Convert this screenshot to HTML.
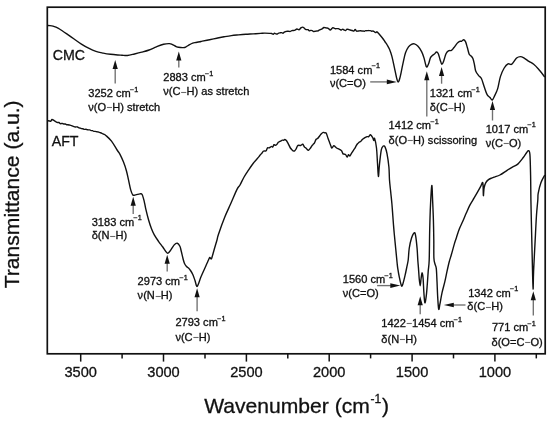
<!DOCTYPE html>
<html><head><meta charset="utf-8"><style>
html,body{margin:0;padding:0;background:#fff;}
svg{display:block;}
text{font-family:"Liberation Sans",Arial,sans-serif;font-size:10.4px;fill:#111;stroke:#111;stroke-width:0.3px;}
.sup{font-size:6.8px;}
.smin{fill:#555;stroke:#555;}
.dash{fill:#6a6a6a;stroke:#6a6a6a;stroke-width:0.6px;font-size:7.5px;}
.tick{font-size:14.6px;text-anchor:middle;fill:#111;}
.ser{font-size:14.2px;fill:#111;}
.ax{font-size:21.1px;fill:#111;}
.axsup{font-size:12px;}
.cv{fill:none;stroke:#111;stroke-width:1.4;stroke-linejoin:round;}
.al{stroke:#707070;stroke-width:1.35;}
.ah{fill:#111;}
</style></head><body>
<svg width="550" height="421" viewBox="0 0 550 421">
<rect x="47.3" y="7.2" width="497.9" height="346.6" fill="none" stroke="#111" stroke-width="1.7"/>
<line x1="80.7" y1="353.8" x2="80.7" y2="361.6" stroke="#111" stroke-width="1.5"/>
<line x1="122.1" y1="353.8" x2="122.1" y2="358.40000000000003" stroke="#111" stroke-width="1.5"/>
<line x1="163.5" y1="353.8" x2="163.5" y2="361.6" stroke="#111" stroke-width="1.5"/>
<line x1="205.0" y1="353.8" x2="205.0" y2="358.40000000000003" stroke="#111" stroke-width="1.5"/>
<line x1="246.4" y1="353.8" x2="246.4" y2="361.6" stroke="#111" stroke-width="1.5"/>
<line x1="287.8" y1="353.8" x2="287.8" y2="358.40000000000003" stroke="#111" stroke-width="1.5"/>
<line x1="329.2" y1="353.8" x2="329.2" y2="361.6" stroke="#111" stroke-width="1.5"/>
<line x1="370.6" y1="353.8" x2="370.6" y2="358.40000000000003" stroke="#111" stroke-width="1.5"/>
<line x1="412.1" y1="353.8" x2="412.1" y2="361.6" stroke="#111" stroke-width="1.5"/>
<line x1="453.5" y1="353.8" x2="453.5" y2="358.40000000000003" stroke="#111" stroke-width="1.5"/>
<line x1="494.9" y1="353.8" x2="494.9" y2="361.6" stroke="#111" stroke-width="1.5"/>
<line x1="536.3" y1="353.8" x2="536.3" y2="358.40000000000003" stroke="#111" stroke-width="1.5"/>
<text x="80.7" y="377.3" class="tick">3500</text>
<text x="163.5" y="377.3" class="tick">3000</text>
<text x="246.4" y="377.3" class="tick">2500</text>
<text x="329.2" y="377.3" class="tick">2000</text>
<text x="412.1" y="377.3" class="tick">1500</text>
<text x="494.9" y="377.3" class="tick">1000</text>
<path d="M47.50,25.50 C47.92,25.52 49.08,25.50 50.00,25.60 C50.92,25.70 52.00,25.83 53.00,26.10 C54.00,26.37 54.92,26.72 56.00,27.20 C57.08,27.68 57.70,27.88 59.50,29.00 C61.30,30.12 64.37,32.23 66.80,33.90 C69.23,35.57 71.67,37.30 74.10,39.00 C76.53,40.70 78.98,42.57 81.40,44.10 C83.82,45.63 86.18,46.98 88.60,48.20 C91.02,49.42 93.47,50.58 95.90,51.40 C98.33,52.22 100.77,52.62 103.20,53.10 C105.63,53.58 108.08,53.98 110.50,54.30 C112.92,54.62 115.78,54.85 117.70,55.00 C119.62,55.15 120.40,55.12 122.00,55.20 C123.60,55.28 125.22,55.70 127.30,55.50 C129.38,55.30 132.08,54.55 134.50,54.00 C136.92,53.45 139.37,52.87 141.80,52.20 C144.23,51.53 146.67,50.90 149.10,50.00 C151.53,49.10 153.98,47.77 156.40,46.80 C158.82,45.83 161.42,44.73 163.60,44.20 C165.78,43.67 168.03,43.53 169.50,43.60 C170.97,43.67 171.20,44.07 172.40,44.60 C173.60,45.13 175.25,46.32 176.70,46.80 C178.15,47.28 179.77,47.38 181.10,47.50 C182.43,47.62 183.48,47.87 184.70,47.50 C185.92,47.13 187.07,46.03 188.40,45.30 C189.73,44.57 191.43,43.57 192.70,43.10 C193.97,42.63 194.78,42.73 196.00,42.50 C197.22,42.27 198.95,41.93 200.00,41.70 C201.05,41.47 200.72,41.43 202.30,41.10 C203.88,40.77 207.08,40.18 209.50,39.70 C211.92,39.22 214.37,38.68 216.80,38.20 C219.23,37.72 221.67,37.23 224.10,36.80 C226.53,36.37 228.98,35.92 231.40,35.60 C233.82,35.28 236.18,35.12 238.60,34.90 C241.02,34.68 243.47,34.47 245.90,34.30 C248.33,34.13 250.77,34.05 253.20,33.90 C255.63,33.75 258.57,33.53 260.50,33.40 C262.43,33.27 263.12,33.10 264.80,33.10 C266.48,33.10 269.42,33.33 270.60,33.40 C271.78,33.47 271.47,33.41 271.90,33.55 C272.33,33.68 272.77,34.28 273.20,34.23 C273.63,34.17 274.07,33.31 274.50,33.23 C274.93,33.16 275.34,33.67 275.80,33.80 C276.26,33.93 276.77,34.12 277.25,34.00 C277.73,33.87 278.22,33.27 278.70,33.07 C279.18,32.87 279.67,32.85 280.15,32.77 C280.63,32.69 281.11,32.53 281.60,32.60 C282.09,32.67 282.58,33.30 283.08,33.20 C283.57,33.10 284.06,32.26 284.55,31.98 C285.04,31.70 285.53,31.66 286.02,31.53 C286.52,31.40 287.01,31.22 287.50,31.20 C287.99,31.18 288.47,31.35 288.95,31.39 C289.43,31.43 289.92,31.54 290.40,31.41 C290.88,31.29 291.37,30.81 291.85,30.66 C292.33,30.51 292.76,30.60 293.30,30.50 C293.84,30.40 294.50,30.29 295.10,30.04 C295.70,29.79 296.23,29.06 296.90,29.00 C297.57,28.94 298.43,29.88 299.10,29.70 C299.77,29.52 300.30,28.35 300.90,27.91 C301.50,27.48 302.16,27.07 302.70,27.10 C303.24,27.13 303.67,27.68 304.15,28.07 C304.63,28.45 305.15,29.13 305.60,29.40 C306.05,29.67 306.42,29.63 306.83,29.68 C307.24,29.74 307.66,29.53 308.07,29.73 C308.48,29.94 308.86,30.79 309.30,30.90 C309.74,31.01 310.26,30.44 310.73,30.38 C311.21,30.32 311.69,30.35 312.17,30.55 C312.64,30.76 313.12,31.48 313.60,31.60 C314.08,31.72 314.58,31.34 315.07,31.25 C315.56,31.16 316.04,31.11 316.53,31.05 C317.02,30.99 317.51,31.08 318.00,30.90 C318.49,30.72 318.98,30.22 319.47,29.97 C319.96,29.72 320.44,29.63 320.93,29.40 C321.42,29.17 321.91,28.91 322.40,28.60 C322.89,28.29 323.37,27.67 323.85,27.53 C324.33,27.40 324.82,27.72 325.30,27.80 C325.78,27.88 326.27,27.93 326.75,28.01 C327.23,28.09 327.59,27.97 328.20,28.30 C328.81,28.63 329.68,30.08 330.40,30.00 C331.12,29.92 331.91,28.10 332.50,27.80 C333.09,27.50 333.48,28.03 333.97,28.19 C334.46,28.34 334.94,28.64 335.43,28.71 C335.92,28.78 336.41,28.61 336.90,28.60 C337.39,28.59 337.88,28.52 338.37,28.64 C338.86,28.77 339.34,29.11 339.83,29.33 C340.32,29.56 340.82,30.03 341.30,30.00 C341.78,29.97 342.26,29.15 342.73,29.16 C343.21,29.17 343.69,29.86 344.17,30.08 C344.64,30.30 345.12,30.64 345.60,30.50 C346.08,30.36 346.58,29.41 347.07,29.23 C347.56,29.06 348.04,29.33 348.53,29.46 C349.02,29.58 349.37,29.83 350.00,30.00 C350.63,30.17 351.68,30.31 352.30,30.50 C352.92,30.69 353.26,31.29 353.74,31.13 C354.22,30.97 354.70,29.56 355.18,29.56 C355.66,29.56 356.14,30.90 356.62,31.14 C357.10,31.38 357.58,31.02 358.06,30.98 C358.54,30.94 359.06,30.95 359.50,30.90 C359.94,30.85 360.31,30.68 360.72,30.71 C361.12,30.74 361.53,31.00 361.93,31.06 C362.34,31.12 362.74,31.03 363.15,31.06 C363.56,31.10 363.96,31.36 364.37,31.29 C364.77,31.22 365.18,30.72 365.58,30.62 C365.99,30.52 366.39,30.71 366.80,30.70 C367.21,30.69 367.61,30.54 368.02,30.54 C368.42,30.53 368.83,30.65 369.23,30.66 C369.64,30.68 370.04,30.52 370.45,30.61 C370.86,30.70 371.26,31.15 371.67,31.21 C372.07,31.27 372.48,30.93 372.88,30.97 C373.29,31.02 373.65,31.22 374.10,31.50 C374.55,31.78 375.08,32.61 375.57,32.67 C376.06,32.72 376.54,31.71 377.03,31.83 C377.52,31.95 377.54,32.29 378.50,33.40 C379.46,34.51 381.75,37.15 382.80,38.50 C383.85,39.85 384.07,40.42 384.80,41.50 C385.53,42.58 386.42,43.70 387.20,45.00 C387.98,46.30 388.72,47.40 389.50,49.30 C390.28,51.20 391.10,53.43 391.90,56.40 C392.70,59.37 393.52,63.53 394.30,67.10 C395.08,70.67 395.97,75.33 396.60,77.80 C397.23,80.27 397.60,81.70 398.10,81.90 C398.60,82.10 399.05,80.78 399.60,79.00 C400.15,77.22 400.80,73.98 401.40,71.20 C402.00,68.42 402.52,65.37 403.20,62.30 C403.88,59.23 404.62,55.37 405.50,52.80 C406.38,50.23 407.50,48.32 408.50,46.90 C409.50,45.48 410.52,44.80 411.50,44.30 C412.48,43.80 413.32,43.57 414.40,43.90 C415.48,44.23 416.80,45.02 418.00,46.30 C419.20,47.58 420.62,49.72 421.60,51.60 C422.58,53.48 423.22,55.42 423.90,57.60 C424.58,59.78 425.20,63.12 425.70,64.70 C426.20,66.28 426.40,67.30 426.90,67.10 C427.40,66.90 428.10,65.08 428.70,63.50 C429.30,61.92 429.88,58.93 430.50,57.60 C431.12,56.27 431.73,56.10 432.40,55.50 C433.07,54.90 433.82,54.58 434.50,54.00 C435.18,53.42 435.87,52.03 436.50,52.00 C437.13,51.97 437.70,52.52 438.30,53.80 C438.90,55.08 439.50,57.93 440.10,59.70 C440.70,61.47 441.30,64.20 441.90,64.40 C442.50,64.60 443.02,62.67 443.70,60.90 C444.38,59.13 445.22,55.48 446.00,53.80 C446.78,52.12 447.50,51.37 448.40,50.80 C449.30,50.23 450.50,50.90 451.40,50.40 C452.30,49.90 452.82,49.02 453.80,47.80 C454.78,46.58 456.32,44.18 457.30,43.10 C458.28,42.02 459.00,41.60 459.70,41.30 C460.40,41.00 460.82,41.57 461.50,41.30 C462.18,41.03 463.12,39.60 463.80,39.70 C464.48,39.80 465.00,40.55 465.60,41.90 C466.20,43.25 466.80,45.73 467.40,47.80 C468.00,49.87 468.68,53.02 469.20,54.30 C469.72,55.58 469.88,54.80 470.50,55.50 C471.12,56.20 472.23,56.92 472.90,58.50 C473.57,60.08 474.03,62.93 474.50,65.00 C474.97,67.07 475.02,69.13 475.70,70.90 C476.38,72.67 477.65,74.33 478.60,75.60 C479.55,76.87 480.45,76.60 481.40,78.50 C482.35,80.40 483.35,84.32 484.30,87.00 C485.25,89.68 486.15,92.85 487.10,94.60 C488.05,96.35 489.15,96.60 490.00,97.50 C490.85,98.40 491.42,100.32 492.20,100.00 C492.98,99.68 493.80,97.45 494.70,95.60 C495.60,93.75 496.65,92.07 497.60,88.90 C498.55,85.73 499.30,80.08 500.40,76.60 C501.50,73.12 502.93,70.13 504.20,68.00 C505.47,65.87 506.73,64.43 508.00,63.80 C509.27,63.17 510.37,65.15 511.80,64.20 C513.23,63.25 515.17,59.37 516.60,58.10 C518.03,56.83 519.13,56.60 520.40,56.60 C521.67,56.60 522.78,57.30 524.20,58.10 C525.62,58.90 527.32,60.38 528.90,61.40 C530.48,62.42 532.12,62.93 533.70,64.20 C535.28,65.47 536.55,66.87 538.40,69.00 C540.25,71.13 543.73,75.67 544.80,77.00" class="cv"/>
<path d="M47.50,120.60 C48.03,120.70 49.95,121.38 50.70,121.20 C51.45,121.02 51.37,119.57 52.00,119.50 C52.63,119.43 53.77,120.37 54.50,120.80 C55.23,121.23 55.87,121.81 56.40,122.10 C56.93,122.39 57.24,122.48 57.67,122.55 C58.09,122.61 58.51,122.31 58.93,122.49 C59.36,122.67 59.78,123.45 60.20,123.63 C60.62,123.81 61.04,123.58 61.47,123.56 C61.89,123.54 62.31,123.46 62.73,123.54 C63.16,123.61 63.56,123.92 64.00,124.00 C64.44,124.08 64.90,123.91 65.36,124.03 C65.81,124.16 66.26,124.61 66.71,124.73 C67.17,124.86 67.62,124.72 68.07,124.78 C68.52,124.83 68.98,124.96 69.43,125.05 C69.88,125.14 70.33,125.19 70.79,125.32 C71.24,125.45 71.69,125.68 72.14,125.84 C72.60,126.01 73.05,126.12 73.50,126.30 C73.95,126.48 74.40,126.83 74.86,126.93 C75.31,127.04 75.76,126.89 76.21,126.91 C76.67,126.92 77.12,126.84 77.57,127.01 C78.02,127.17 78.48,127.71 78.93,127.90 C79.38,128.08 79.83,127.98 80.29,128.10 C80.74,128.23 81.19,128.54 81.64,128.65 C82.10,128.77 82.55,128.68 83.00,128.80 C83.45,128.92 83.90,129.29 84.36,129.37 C84.81,129.46 85.26,129.27 85.71,129.30 C86.17,129.34 86.62,129.48 87.07,129.58 C87.52,129.67 87.98,129.83 88.43,129.87 C88.88,129.92 89.33,129.75 89.79,129.87 C90.24,129.99 90.69,130.46 91.14,130.60 C91.60,130.73 92.06,130.57 92.50,130.70 C92.94,130.83 93.34,131.25 93.77,131.36 C94.19,131.47 94.61,131.34 95.03,131.38 C95.46,131.42 95.88,131.50 96.30,131.59 C96.72,131.68 97.14,131.82 97.57,131.90 C97.99,131.98 98.41,131.97 98.83,132.09 C99.26,132.20 99.65,132.43 100.10,132.60 C100.55,132.77 101.05,132.88 101.52,133.10 C102.00,133.32 102.47,133.67 102.95,133.90 C103.42,134.13 103.90,134.24 104.38,134.49 C104.85,134.74 104.61,134.30 105.80,135.40 C106.99,136.50 109.62,138.67 111.50,141.10 C113.38,143.53 115.68,147.80 117.10,150.00 C118.52,152.20 118.93,152.28 120.00,154.30 C121.07,156.32 122.43,159.37 123.50,162.10 C124.57,164.83 125.57,167.73 126.40,170.70 C127.23,173.67 127.78,176.70 128.50,179.90 C129.22,183.10 129.98,187.40 130.70,189.90 C131.42,192.40 131.97,194.07 132.80,194.90 C133.63,195.73 134.52,195.07 135.70,194.90 C136.88,194.73 138.83,193.97 139.90,193.90 C140.97,193.83 141.38,193.27 142.10,194.50 C142.82,195.73 143.60,198.95 144.20,201.30 C144.80,203.65 144.97,205.48 145.70,208.60 C146.43,211.72 147.65,216.68 148.60,220.00 C149.55,223.32 150.45,226.02 151.40,228.50 C152.35,230.98 153.12,232.77 154.30,234.90 C155.48,237.03 157.08,239.28 158.50,241.30 C159.92,243.32 161.37,245.05 162.80,247.00 C164.23,248.95 165.92,252.28 167.10,253.00 C168.28,253.72 168.72,252.65 169.90,251.30 C171.08,249.95 172.97,246.25 174.20,244.90 C175.43,243.55 176.35,242.97 177.30,243.20 C178.25,243.43 179.25,245.00 179.90,246.30 C180.55,247.60 180.68,248.97 181.20,251.00 C181.72,253.03 182.45,256.42 183.00,258.50 C183.55,260.58 183.92,262.17 184.50,263.50 C185.08,264.83 185.83,265.75 186.50,266.50 C187.17,267.25 187.83,267.33 188.50,268.00 C189.17,268.67 189.78,269.42 190.50,270.50 C191.22,271.58 192.05,272.83 192.80,274.50 C193.55,276.17 194.27,278.52 195.00,280.50 C195.73,282.48 196.22,286.97 197.20,286.40 C198.18,285.83 199.65,280.08 200.90,277.10 C202.15,274.12 203.43,271.35 204.70,268.50 C205.97,265.65 207.65,261.83 208.50,260.00 C209.35,258.17 209.33,257.67 209.80,257.50 C210.27,257.33 210.88,259.22 211.30,259.00 C211.72,258.78 211.82,257.78 212.30,256.20 C212.78,254.62 213.42,252.20 214.20,249.50 C214.98,246.80 216.28,242.55 217.00,240.00 C217.72,237.45 217.22,238.00 218.50,234.20 C219.78,230.40 222.63,222.35 224.70,217.20 C226.77,212.05 228.85,207.93 230.90,203.30 C232.95,198.67 235.48,192.45 237.00,189.40 C238.52,186.35 238.87,186.98 240.00,185.00 C241.13,183.02 242.37,180.02 243.80,177.50 C245.23,174.98 247.02,172.28 248.60,169.90 C250.18,167.52 251.57,165.42 253.30,163.20 C255.03,160.98 257.81,158.03 259.00,156.60 C260.19,155.17 259.95,155.18 260.43,154.63 C260.90,154.07 261.38,153.83 261.85,153.27 C262.33,152.72 262.80,151.67 263.27,151.28 C263.75,150.88 264.22,150.96 264.70,150.90 C265.18,150.84 265.65,151.42 266.12,150.90 C266.60,150.38 267.07,148.29 267.55,147.80 C268.02,147.30 268.50,148.02 268.97,147.91 C269.45,147.79 269.96,147.36 270.40,147.10 C270.84,146.84 271.20,146.38 271.60,146.36 C272.00,146.34 272.40,147.26 272.80,146.98 C273.20,146.70 273.60,144.98 274.00,144.68 C274.40,144.39 274.74,145.24 275.20,145.20 C275.66,145.16 276.24,144.95 276.77,144.47 C277.29,143.99 277.81,142.81 278.33,142.30 C278.86,141.79 279.44,141.64 279.90,141.40 C280.36,141.16 280.70,141.06 281.10,140.85 C281.50,140.63 281.90,140.21 282.30,140.11 C282.70,140.02 283.10,140.40 283.50,140.30 C283.90,140.19 284.27,139.49 284.70,139.50 C285.13,139.51 285.63,139.86 286.10,140.33 C286.57,140.80 287.02,141.50 287.50,142.30 C287.98,143.10 288.47,144.16 288.95,145.11 C289.43,146.06 289.92,147.25 290.40,148.00 C290.88,148.75 291.33,149.14 291.80,149.63 C292.27,150.11 292.72,150.69 293.20,150.90 C293.68,151.11 294.17,151.19 294.65,150.87 C295.13,150.55 295.62,149.83 296.10,149.00 C296.58,148.17 297.03,146.53 297.50,145.90 C297.97,145.26 298.46,145.24 298.90,145.20 C299.34,145.16 299.74,145.66 300.17,145.63 C300.59,145.60 301.01,145.25 301.43,145.01 C301.86,144.77 302.17,143.85 302.70,144.20 C303.23,144.55 304.07,146.48 304.60,147.10 C305.13,147.72 305.44,147.54 305.87,147.92 C306.29,148.31 306.71,148.99 307.13,149.39 C307.56,149.78 307.84,150.53 308.40,150.30 C308.96,150.07 309.94,148.71 310.50,148.00 C311.06,147.29 311.33,146.63 311.75,146.07 C312.17,145.50 312.54,145.13 313.00,144.60 C313.46,144.07 314.00,143.72 314.50,142.87 C315.00,142.02 315.48,140.23 316.00,139.50 C316.52,138.77 316.97,139.13 317.60,138.50 C318.23,137.87 319.17,136.48 319.80,135.70 C320.43,134.92 320.82,134.35 321.40,133.80 C321.98,133.25 322.74,132.55 323.30,132.40 C323.86,132.25 324.27,132.77 324.75,132.90 C325.23,133.04 325.64,132.27 326.20,133.20 C326.76,134.13 327.55,137.00 328.10,138.50 C328.65,140.00 329.03,140.93 329.50,142.19 C329.97,143.46 330.50,145.13 330.90,146.10 C331.30,147.07 331.42,148.07 331.90,148.00 C332.38,147.93 333.25,145.91 333.80,145.70 C334.35,145.49 334.73,146.35 335.20,146.74 C335.67,147.12 336.16,147.70 336.60,148.00 C337.04,148.30 337.44,148.34 337.87,148.53 C338.29,148.73 338.71,148.95 339.13,149.18 C339.56,149.41 339.98,149.62 340.40,149.90 C340.82,150.18 341.24,150.22 341.67,150.86 C342.09,151.50 342.51,153.19 342.93,153.73 C343.36,154.27 343.75,153.95 344.20,154.10 C344.65,154.25 345.17,154.14 345.65,154.64 C346.13,155.14 346.62,157.08 347.10,157.10 C347.58,157.12 348.03,154.93 348.50,154.75 C348.97,154.56 349.46,156.14 349.90,156.00 C350.34,155.86 350.74,154.60 351.17,153.91 C351.59,153.22 352.01,152.53 352.43,151.86 C352.86,151.19 353.28,150.53 353.70,149.90 C354.12,149.27 354.54,148.75 354.97,148.05 C355.39,147.36 355.81,146.44 356.23,145.73 C356.66,145.02 357.09,144.31 357.50,143.80 C357.91,143.29 358.30,142.98 358.70,142.65 C359.10,142.32 359.50,142.08 359.90,141.82 C360.30,141.55 360.70,141.45 361.10,141.06 C361.50,140.67 361.84,139.96 362.30,139.50 C362.76,139.04 363.34,138.66 363.87,138.31 C364.39,137.96 364.91,137.67 365.43,137.38 C365.96,137.10 366.45,136.73 367.00,136.60 C367.55,136.47 368.17,136.94 368.75,136.62 C369.33,136.30 369.84,134.54 370.50,134.70 C371.16,134.86 372.17,136.65 372.70,137.60 C373.23,138.55 373.38,140.25 373.70,140.40 C374.02,140.55 374.13,137.23 374.60,138.50 C375.07,139.77 376.02,143.88 376.50,148.00 C376.98,152.12 377.18,158.45 377.50,163.20 C377.82,167.95 378.08,176.18 378.40,176.50 C378.72,176.82 378.92,169.53 379.40,165.10 C379.88,160.67 380.67,153.07 381.30,149.90 C381.93,146.73 382.57,146.57 383.20,146.10 C383.83,145.63 384.47,145.83 385.10,147.10 C385.73,148.37 386.37,150.38 387.00,153.70 C387.63,157.02 388.48,162.62 388.90,167.00 C389.32,171.38 389.20,175.85 389.50,180.00 C389.80,184.15 390.30,187.93 390.70,191.90 C391.10,195.87 391.55,199.85 391.90,203.80 C392.25,207.75 392.53,212.07 392.80,215.60 C393.07,219.13 393.25,221.88 393.50,225.00 C393.75,228.12 393.93,230.38 394.30,234.30 C394.67,238.22 395.23,243.75 395.70,248.50 C396.17,253.25 396.75,259.45 397.10,262.80 C397.45,266.15 397.43,266.22 397.80,268.60 C398.17,270.98 398.70,274.25 399.30,277.10 C399.90,279.95 400.82,284.52 401.40,285.70 C401.98,286.88 402.20,285.87 402.80,284.20 C403.40,282.53 404.33,278.55 405.00,275.70 C405.67,272.85 406.27,269.72 406.80,267.10 C407.33,264.48 407.80,263.10 408.20,260.00 C408.60,256.90 408.67,252.08 409.20,248.50 C409.73,244.92 410.57,241.12 411.40,238.50 C412.23,235.88 413.50,233.27 414.20,232.80 C414.90,232.33 415.12,233.08 415.60,235.70 C416.08,238.32 416.73,244.45 417.10,248.50 C417.47,252.55 417.57,256.65 417.80,260.00 C418.03,263.35 418.27,265.52 418.50,268.60 C418.73,271.68 418.92,275.65 419.20,278.50 C419.48,281.35 419.88,285.70 420.20,285.70 C420.52,285.70 420.78,280.65 421.10,278.50 C421.42,276.35 421.77,272.80 422.10,272.80 C422.43,272.80 422.80,275.17 423.10,278.50 C423.40,281.83 423.60,288.75 423.90,292.80 C424.20,296.85 424.50,302.33 424.90,302.80 C425.30,303.27 425.90,298.70 426.30,295.60 C426.70,292.50 426.98,288.23 427.30,284.20 C427.62,280.17 427.88,275.43 428.20,271.40 C428.52,267.37 428.95,266.90 429.20,260.00 C429.45,253.10 429.48,239.17 429.70,230.00 C429.92,220.83 430.15,212.43 430.50,205.00 C430.85,197.57 431.45,186.23 431.80,185.40 C432.15,184.57 432.33,194.23 432.60,200.00 C432.87,205.77 433.20,213.33 433.40,220.00 C433.60,226.67 433.72,233.67 433.80,240.00 C433.88,246.33 433.70,254.00 433.90,258.00 C434.10,262.00 434.60,262.23 435.00,264.00 C435.40,265.77 435.97,265.70 436.30,268.60 C436.63,271.50 436.77,276.67 437.00,281.40 C437.23,286.13 437.42,292.37 437.70,297.00 C437.98,301.63 438.33,308.00 438.70,309.20 C439.07,310.40 439.35,306.93 439.90,304.20 C440.45,301.47 441.17,296.60 442.00,292.80 C442.83,289.00 444.07,284.97 444.90,281.40 C445.73,277.83 446.27,274.72 447.00,271.40 C447.73,268.08 448.57,264.32 449.30,261.50 C450.03,258.68 450.57,257.40 451.40,254.50 C452.23,251.60 453.47,246.90 454.30,244.10 C455.13,241.30 455.58,240.18 456.40,237.70 C457.22,235.22 458.13,231.93 459.20,229.20 C460.27,226.47 461.60,224.03 462.80,221.30 C464.00,218.57 465.15,215.62 466.40,212.80 C467.65,209.98 469.03,206.83 470.30,204.40 C471.57,201.97 472.80,200.23 474.00,198.20 C475.20,196.17 476.38,194.17 477.50,192.20 C478.62,190.23 479.87,188.02 480.70,186.40 C481.53,184.78 482.10,182.57 482.50,182.50 C482.90,182.43 482.95,183.80 483.10,186.00 C483.25,188.20 483.23,195.40 483.40,195.70 C483.57,196.00 483.72,189.95 484.10,187.80 C484.48,185.65 484.97,184.17 485.70,182.80 C486.43,181.43 487.43,180.42 488.50,179.60 C489.57,178.78 491.02,178.37 492.10,177.90 C493.18,177.43 493.70,177.28 495.00,176.80 C496.30,176.32 497.88,176.08 499.90,175.00 C501.92,173.92 505.02,171.62 507.10,170.30 C509.18,168.98 510.62,168.13 512.40,167.10 C514.18,166.07 516.02,165.65 517.80,164.10 C519.58,162.55 521.62,159.73 523.10,157.80 C524.58,155.87 525.82,153.68 526.70,152.50 C527.58,151.32 527.87,150.40 528.40,150.70 C528.93,151.00 529.53,150.15 529.90,154.30 C530.27,158.45 530.43,167.98 530.60,175.60 C530.77,183.22 530.70,189.27 530.90,200.00 C531.10,210.73 531.53,228.33 531.80,240.00 C532.07,251.67 532.28,261.83 532.50,270.00 C532.72,278.17 532.92,288.78 533.10,289.00 C533.28,289.22 533.22,280.20 533.60,271.30 C533.98,262.40 534.92,244.98 535.40,235.60 C535.88,226.22 536.10,220.93 536.50,215.00 C536.90,209.07 537.52,203.60 537.80,200.00 C538.08,196.40 537.68,196.27 538.20,193.40 C538.72,190.53 539.80,185.87 540.90,182.80 C542.00,179.73 544.15,176.30 544.80,175.00" class="cv"/>
<text x="52.8" y="60.1" class="ser">CMC</text>
<text x="51.7" y="145.8" class="ser">AFT</text>
<text x="204.2" y="413.4" class="ax">Wavenumber (cm<tspan class="axsup" dx="0.6" dy="-10">-1</tspan><tspan dx="0.8" dy="10">)</tspan></text>
<text transform="translate(18.5,288.3) rotate(-90)" class="ax">Transmittance (a.u.)</text>
<line x1="115.2" y1="68" x2="115.2" y2="83.6" class="al"/><polygon points="115.2,60 112.60000000000001,69 117.8,69" class="ah"/>
<text transform="translate(88.3,97.2) scale(1.065,1)">3252 cm<tspan class="sup" dx="-0.6" dy="-5.4"><tspan class="smin">−</tspan>1</tspan></text>
<text transform="translate(88.3,111.0) scale(1.065,1)">ν(O<tspan class="dash" dx="1" dy="-1.7">–</tspan><tspan dx="0.5" dy="1.7">H) stretch</tspan></text>
<line x1="178.8" y1="59.4" x2="178.8" y2="67.4" class="al"/><polygon points="178.8,51.4 176.20000000000002,60.4 181.4,60.4" class="ah"/>
<text transform="translate(163.3,80.9) scale(1.065,1)">2883 cm<tspan class="sup" dx="-0.6" dy="-5.4"><tspan class="smin">−</tspan>1</tspan></text>
<text transform="translate(163.3,95.4) scale(1.065,1)">ν(C<tspan class="dash" dx="1" dy="-1.7">–</tspan><tspan dx="0.5" dy="1.7">H) as stretch</tspan></text>
<text transform="translate(329.9,73.60000000000001) scale(1.065,1)">1584 cm<tspan class="sup" dx="-0.6" dy="-5.4"><tspan class="smin">−</tspan>1</tspan></text>
<text transform="translate(329.9,86.7) scale(1.065,1)">ν(C=O)</text>
<line x1="370.2" y1="81.9" x2="387.8" y2="81.9" class="al"/><polygon points="396.8,81.9 386.8,79.55000000000001 386.8,84.25" class="ah"/>
<line x1="426.8" y1="79.3" x2="426.8" y2="116.6" class="al"/><polygon points="426.8,71.3 424.2,80.3 429.40000000000003,80.3" class="ah"/>
<text transform="translate(388.6,129.0) scale(1.065,1)">1412 cm<tspan class="sup" dx="-0.6" dy="-5.4"><tspan class="smin">−</tspan>1</tspan></text>
<text transform="translate(388.6,143.6) scale(1.065,1)">δ(O<tspan class="dash" dx="1" dy="-1.7">–</tspan><tspan dx="0.5" dy="1.7">H) scissoring</tspan></text>
<line x1="441.6" y1="75.1" x2="441.6" y2="83.7" class="al"/><polygon points="441.6,67.1 439.0,76.1 444.20000000000005,76.1" class="ah"/>
<text transform="translate(429.8,97.0) scale(1.065,1)">1321 cm<tspan class="sup" dx="-0.6" dy="-5.4"><tspan class="smin">−</tspan>1</tspan></text>
<text transform="translate(429.8,111.30000000000001) scale(1.065,1)">δ(C<tspan class="dash" dx="1" dy="-1.7">–</tspan><tspan dx="0.5" dy="1.7">H)</tspan></text>
<line x1="492.5" y1="109.1" x2="492.5" y2="120.5" class="al"/><polygon points="492.5,101.1 489.9,110.1 495.1,110.1" class="ah"/>
<text transform="translate(485.7,132.5) scale(1.065,1)">1017 cm<tspan class="sup" dx="-0.6" dy="-5.4"><tspan class="smin">−</tspan>1</tspan></text>
<text transform="translate(485.7,147.0) scale(1.065,1)">ν(C<tspan class="dash" dx="1" dy="-1.7">–</tspan><tspan dx="0.5" dy="1.7">O)</tspan></text>
<line x1="133.2" y1="204.8" x2="133.2" y2="213.9" class="al"/><polygon points="133.2,196.8 130.6,205.8 135.79999999999998,205.8" class="ah"/>
<text transform="translate(91.7,225.70000000000002) scale(1.065,1)">3183 cm<tspan class="sup" dx="-0.6" dy="-5.4"><tspan class="smin">−</tspan>1</tspan></text>
<text transform="translate(91.7,239.3) scale(1.065,1)">δ(N<tspan class="dash" dx="1" dy="-1.7">–</tspan><tspan dx="0.5" dy="1.7">H)</tspan></text>
<line x1="167.2" y1="262.8" x2="167.2" y2="271.4" class="al"/><polygon points="167.2,254.8 164.6,263.8 169.79999999999998,263.8" class="ah"/>
<text transform="translate(137.6,285.0) scale(1.065,1)">2973 cm<tspan class="sup" dx="-0.6" dy="-5.4"><tspan class="smin">−</tspan>1</tspan></text>
<text transform="translate(137.6,299.2) scale(1.065,1)">ν(N<tspan class="dash" dx="1" dy="-1.7">–</tspan><tspan dx="0.5" dy="1.7">H)</tspan></text>
<line x1="197.1" y1="296.3" x2="197.1" y2="311.3" class="al"/><polygon points="197.1,288.3 194.5,297.3 199.7,297.3" class="ah"/>
<text transform="translate(175.4,326.09999999999997) scale(1.065,1)">2793 cm<tspan class="sup" dx="-0.6" dy="-5.4"><tspan class="smin">−</tspan>1</tspan></text>
<text transform="translate(175.4,340.7) scale(1.065,1)">ν(C<tspan class="dash" dx="1" dy="-1.7">–</tspan><tspan dx="0.5" dy="1.7">H)</tspan></text>
<text transform="translate(342.8,282.9) scale(1.065,1)">1560 cm<tspan class="sup" dx="-0.6" dy="-5.4"><tspan class="smin">−</tspan>1</tspan></text>
<text transform="translate(342.8,296.5) scale(1.065,1)">ν(C=O)</text>
<line x1="377.1" y1="285.6" x2="391.3" y2="285.6" class="al"/><polygon points="400.3,285.6 390.3,283.25 390.3,287.95000000000005" class="ah"/>
<line x1="420.2" y1="304.3" x2="420.2" y2="314.2" class="al"/><polygon points="420.2,296.3 417.59999999999997,305.3 422.8,305.3" class="ah"/>
<text transform="translate(381.3,327.09999999999997) scale(1.065,1)">1422<tspan class="dash" dx="1" dy="-1.7">–</tspan><tspan dx="0.5" dy="1.7">1454</tspan> cm<tspan class="sup" dx="-0.6" dy="-5.4"><tspan class="smin">−</tspan>1</tspan></text>
<text transform="translate(381.3,342.79999999999995) scale(1.065,1)">δ(N<tspan class="dash" dx="1" dy="-1.7">–</tspan><tspan dx="0.5" dy="1.7">H)</tspan></text>
<text transform="translate(468.2,296.79999999999995) scale(1.065,1)">1342 cm<tspan class="sup" dx="-0.6" dy="-5.4"><tspan class="smin">−</tspan>1</tspan></text>
<text transform="translate(467.3,310.4) scale(1.065,1)">δ(C<tspan class="dash" dx="1" dy="-1.7">–</tspan><tspan dx="0.5" dy="1.7">H)</tspan></text>
<line x1="465.5" y1="305" x2="452.8" y2="305" class="al"/><polygon points="443.8,305 453.8,302.65 453.8,307.35" class="ah"/>
<line x1="533.3" y1="299.3" x2="533.3" y2="315.6" class="al"/><polygon points="533.3,291.3 530.6999999999999,300.3 535.9,300.3" class="ah"/>
<text transform="translate(491.9,331.2) scale(1.065,1)">771 cm<tspan class="sup" dx="-0.6" dy="-5.4"><tspan class="smin">−</tspan>1</tspan></text>
<text transform="translate(491.5,345.5) scale(1.065,1)">δ(O=C<tspan class="dash" dx="1" dy="-1.7">–</tspan><tspan dx="0.5" dy="1.7">O)</tspan></text>
</svg>
</body></html>
